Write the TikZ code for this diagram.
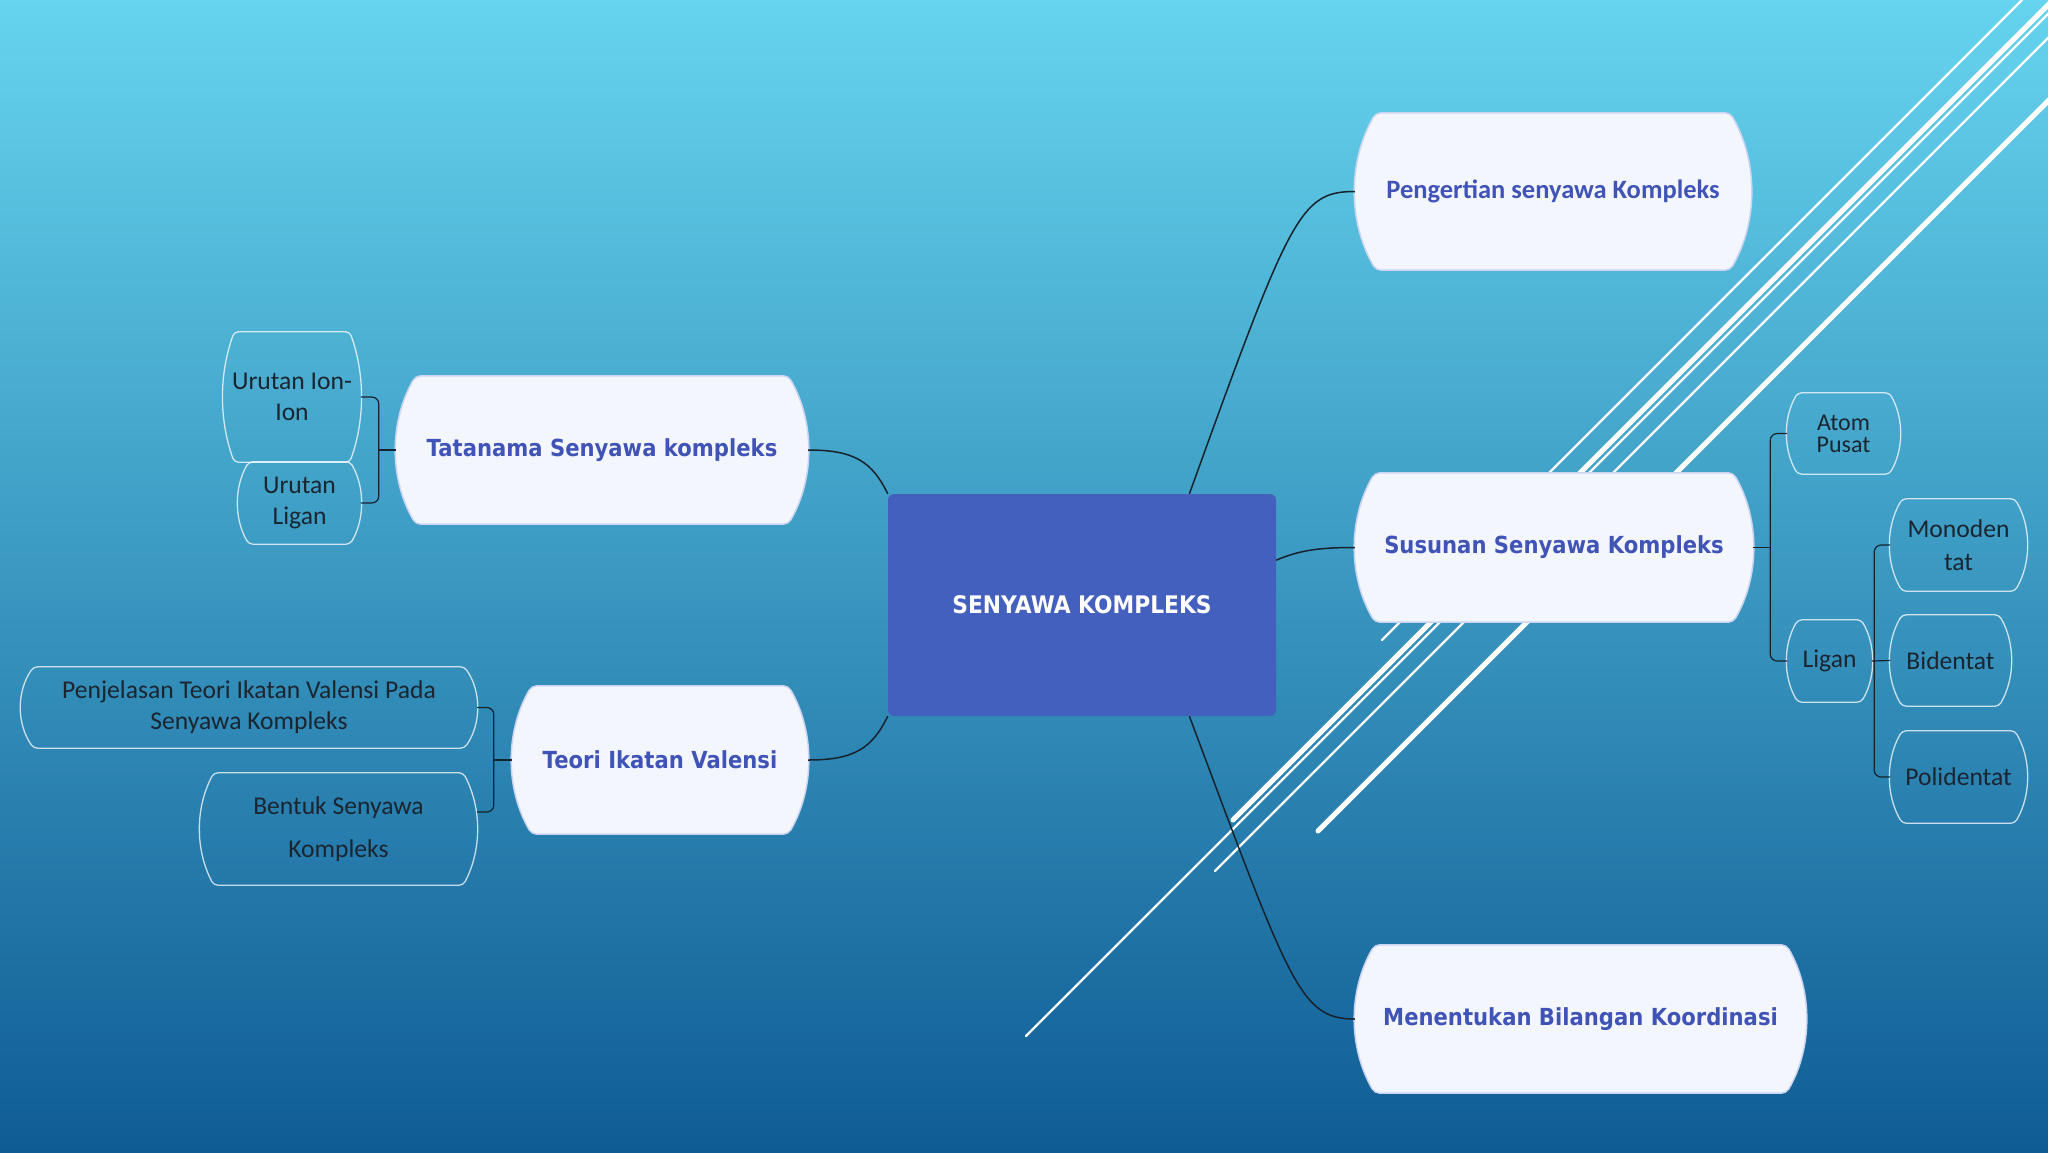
\documentclass[tikz,border=0pt]{standalone}
\usepackage{fontspec}
\usetikzlibrary{calc}
\newfontfamily\tahfont{DejaVu Sans}[FakeStretch=0.9]
\newfontfamily\calfont{Carlito}
\definecolor{bgtop}{HTML}{66D4EE}
\definecolor{bgmid}{HTML}{3A9CC8}
\definecolor{bgbot}{HTML}{0F5C94}
\definecolor{bluetxt}{HTML}{4053B6}
\definecolor{nodefill}{HTML}{F4F6FE}
\definecolor{nodeborder}{HTML}{CBD5F2}
\definecolor{ctrfill}{HTML}{4460BE}
\definecolor{subtxt}{HTML}{1A2530}
\definecolor{connc}{HTML}{16222C}
\pgfdeclarelayer{bgl}
\pgfdeclarelayer{deco}
\pgfdeclarelayer{shp}
\pgfsetlayers{bgl,deco,shp,main}
\tikzset{
  box/.style={rectangle, inner sep=0pt, align=center},
  bigt/.style={font={\tahfont\bfseries\fontsize{23.5}{28}\selectfont}, text=bluetxt},
  pengt/.style={font={\calfont\bfseries\fontsize{26.5}{30}\selectfont}, text=bluetxt},
  subt/.style={font={\calfont\fontsize{25.6}{31}\selectfont}, text=subtxt},
  ctrbox/.style={rectangle, inner sep=0pt, fill=ctrfill, rounded corners=6pt, text=white,
    font={\tahfont\bfseries\fontsize{24.2}{28}\selectfont}},
  bigshape/.style={fill=nodefill, draw=nodeborder, line width=1.5pt, rounded corners=5pt},
  subshape/.style={draw=white, draw opacity=0.75, line width=1.3pt, rounded corners=4pt},
  conn/.style={draw=connc, line width=1.5pt},
  subconn/.style={draw=connc, line width=1.2pt, rounded corners=7pt},
  thinw/.style={draw=white, line width=2.2pt, line cap=round},
  thickw/.style={draw=white, line width=5pt, line cap=round}
}
\newcommand\barrel[3][30]{%
  \begin{pgfonlayer}{shp}
  \path[#2] let \p1=(#3.north west), \p2=(#3.south east),
      \n1={(\y1-\y2)/2/sin(#1)}, \n2={\n1*(1-cos(#1))}, \n3={(\x1+\x2)/2} in
    (\n3,\y1) -- (\x2-\n2,\y1) arc[start angle=#1, end angle=-#1, radius=\n1]
    -- (\x1+\n2,\y2) arc[start angle=180+#1, end angle=180-#1, radius=\n1] -- cycle;
  \end{pgfonlayer}}
\begin{document}
\begin{tikzpicture}[x=1pt,y=-1pt]
\useasboundingbox (0,0) rectangle (2048,1152);
\begin{pgfonlayer}{bgl}
\fill[top color=bgtop, middle color=bgmid, bottom color=bgbot] (0,0) rectangle (2048,1152);
\end{pgfonlayer}
\begin{pgfonlayer}{deco}
\begin{scope}
\clip (0,0) rectangle (2048,1152);
\draw[thinw] (2022,0) -- (1382,640);
\draw[thickw] (2053,0) -- (1233,820);
\draw[thinw] (2062,0) -- (1026,1036);
\draw[thinw] (2086,0) -- (1215,871);
\draw[thickw] (2149,0) -- (1318,831);
\end{scope}
\end{pgfonlayer}

% main nodes
\node[ctrbox, minimum width=388pt, minimum height=222pt] (ctr) at (1082,605) {SENYAWA KOMPLEKS};
\node[box, pengt, minimum width=396pt, minimum height=157pt] (peng) at (1553,191.5) {Pengertian senyawa Kompleks};
\node[box, bigt, minimum width=412pt, minimum height=148pt] (tat) at (602,450) {Tatanama Senyawa kompleks};
\node[box, bigt, minimum width=296pt, minimum height=148pt] (teori) at (660,760) {Teori Ikatan Valensi};
\node[box, bigt, minimum width=398pt, minimum height=149pt] (sus) at (1554,547.5) {Susunan Senyawa Kompleks};
\node[box, bigt, minimum width=451pt, minimum height=148pt] (ment) at (1580.5,1019) {Menentukan Bilangan Koordinasi};

% sub nodes
\node[box, subt, minimum width=138pt, minimum height=130pt] (ion) at (292,397) {Urutan Ion-\\Ion};
\node[box, subt, minimum width=123pt, minimum height=82pt] (lig) at (299.5,503) {Urutan\\Ligan};
\node[box, subt, minimum width=456pt, minimum height=81pt] (pen) at (249,707.5) {Penjelasan Teori Ikatan Valensi Pada\\Senyawa Kompleks};
\node[box, subt, font={\calfont\fontsize{25.6}{43}\selectfont}, minimum width=277pt, minimum height=112pt] (bentuk) at (338.5,829) {Bentuk Senyawa\\Kompleks};
\node[box, subt, font={\calfont\fontsize{24}{22}\selectfont}, minimum width=113pt, minimum height=81pt] (atom) at (1843.5,433.5) {Atom\\Pusat};
\node[box, subt, minimum width=85pt, minimum height=82pt] (ligan) at (1829.5,661) {Ligan};
\node[box, subt, font={\calfont\fontsize{25.6}{33}\selectfont}, minimum width=137pt, minimum height=92pt] (mono) at (1958.5,545) {Monoden\\tat};
\node[box, subt, minimum width=121pt, minimum height=91pt] (bident) at (1950.5,660.5) {Bidentat};
\node[box, subt, minimum width=137pt, minimum height=92pt] (poli) at (1958.5,777) {Polidentat};

% shapes
\barrel{bigshape}{peng}
\barrel{bigshape}{tat}
\barrel{bigshape}{teori}
\barrel{bigshape}{sus}
\barrel{bigshape}{ment}
\barrel[20]{subshape}{ion}
\barrel{subshape}{lig}
\barrel[35]{subshape}{pen}
\barrel[28]{subshape}{bentuk}
\barrel{subshape}{atom}
\barrel{subshape}{ligan}
\barrel{subshape}{mono}
\barrel{subshape}{bident}
\barrel{subshape}{poli}

% main connectors
\draw[conn] (ctr.north west) .. controls (872,462) and (855,450) .. (tat.east);
\draw[conn] (ctr.south west) .. controls (872,748) and (855,760) .. (teori.east);
\draw[conn] (ctr.46) .. controls (1290,215) and (1300,191.5) .. (peng.west);
\draw[conn] (ctr.-46) .. controls (1290,985) and (1300,1019) .. (ment.west);
\draw[conn] (ctr.13) .. controls (1300,550) and (1320,547.5) .. (sus.west);

% sub connectors
\draw[subconn] (tat.west) -- ++(-17,0);
\draw[subconn] (ion.east) -| ($(tat.west)+(-17,0)$) |- (lig.east);
\draw[subconn] (teori.west) -- ++(-18,0);
\draw[subconn] (pen.east) -| ($(teori.west)+(-18,0)$) |- ($(bentuk.east)+(0,-17)$);
\draw[subconn] (sus.east) -- ++(17,0);
\draw[subconn] (atom.west) -| ($(sus.east)+(17,0)$) |- (ligan.west);
\draw[subconn] (ligan.east) -- (bident.west);
\draw[subconn] (mono.west) -| ($(ligan.east)+(2,0)$) |- (poli.west);
\end{tikzpicture}
\end{document}
